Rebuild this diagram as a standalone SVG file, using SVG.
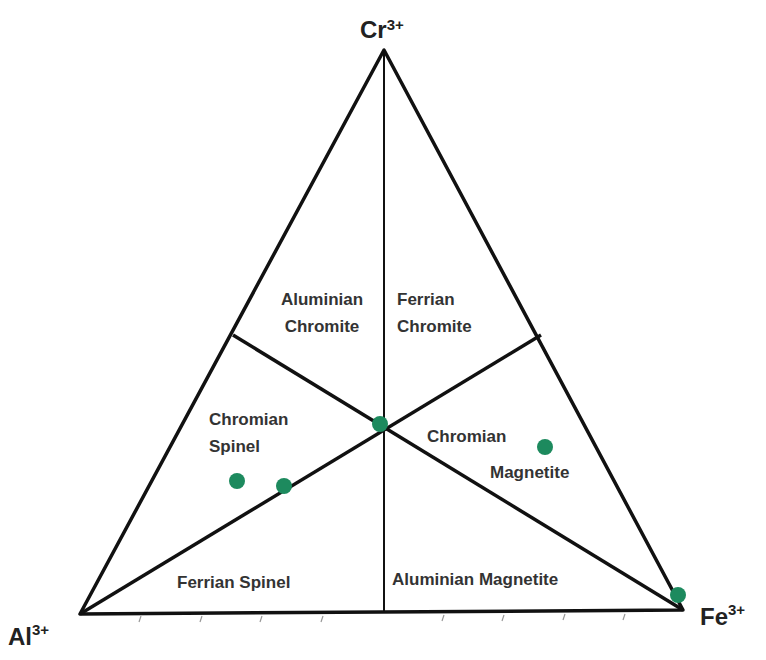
<svg xmlns="http://www.w3.org/2000/svg" width="766" height="660" viewBox="0 0 766 660">
<style>
.l{stroke:#111;stroke-width:3.5;fill:none;stroke-linejoin:round}
.m{stroke:#111;stroke-width:2;fill:none}
.t{font-family:"Liberation Sans",Arial,sans-serif;font-weight:bold;fill:#333;font-size:17px}
.v{font-family:"Liberation Sans",Arial,sans-serif;font-weight:bold;fill:#222;font-size:24px}
.s{font-size:15px}
.d{fill:#1d8a5e}
.k{stroke:#999;stroke-width:1.2}
</style>
<rect width="766" height="660" fill="#fff"/>
<g id="connectors">
<polygon class="l" points="384,50 80,614 683,610"/>
<line class="m" x1="384" y1="50" x2="384" y2="612"/>
<line class="l" x1="80" y1="614" x2="541" y2="335"/>
<line class="l" x1="683" y1="610" x2="233" y2="335"/>
<g class="k">
<line x1="141" y1="616" x2="139" y2="622"/><line x1="202" y1="616" x2="200" y2="622"/><line x1="262" y1="616" x2="260" y2="622"/><line x1="323" y1="616" x2="321" y2="622"/><line x1="444" y1="615" x2="442" y2="621"/><line x1="504" y1="615" x2="502" y2="621"/><line x1="565" y1="614" x2="563" y2="620"/><line x1="625" y1="614" x2="623" y2="620"/>
</g>
</g>
<g id="labels">
<text class="v" x="360" y="38">Cr<tspan class="s" dy="-8">3+</tspan></text>
<text class="v" x="8" y="645">Al<tspan class="s" dy="-10">3+</tspan></text>
<text class="v" x="700" y="625">Fe<tspan class="s" dy="-10">3+</tspan></text>
<text class="t" x="322" y="305" text-anchor="middle">Aluminian</text>
<text class="t" x="322" y="332" text-anchor="middle">Chromite</text>
<text class="t" x="397" y="305">Ferrian</text>
<text class="t" x="397" y="332">Chromite</text>
<text class="t" x="209" y="425">Chromian</text>
<text class="t" x="209" y="452">Spinel</text>
<text class="t" x="427" y="442">Chromian</text>
<text class="t" x="490" y="478">Magnetite</text>
<text class="t" x="177" y="588">Ferrian Spinel</text>
<text class="t" x="392" y="585">Aluminian Magnetite</text>
</g>
<g id="points">
<circle class="d" cx="380" cy="424" r="8"/>
<circle class="d" cx="237" cy="481" r="8"/>
<circle class="d" cx="284" cy="486" r="8"/>
<circle class="d" cx="545" cy="447" r="8"/>
<circle class="d" cx="678" cy="595" r="8"/>
</g>
</svg>
